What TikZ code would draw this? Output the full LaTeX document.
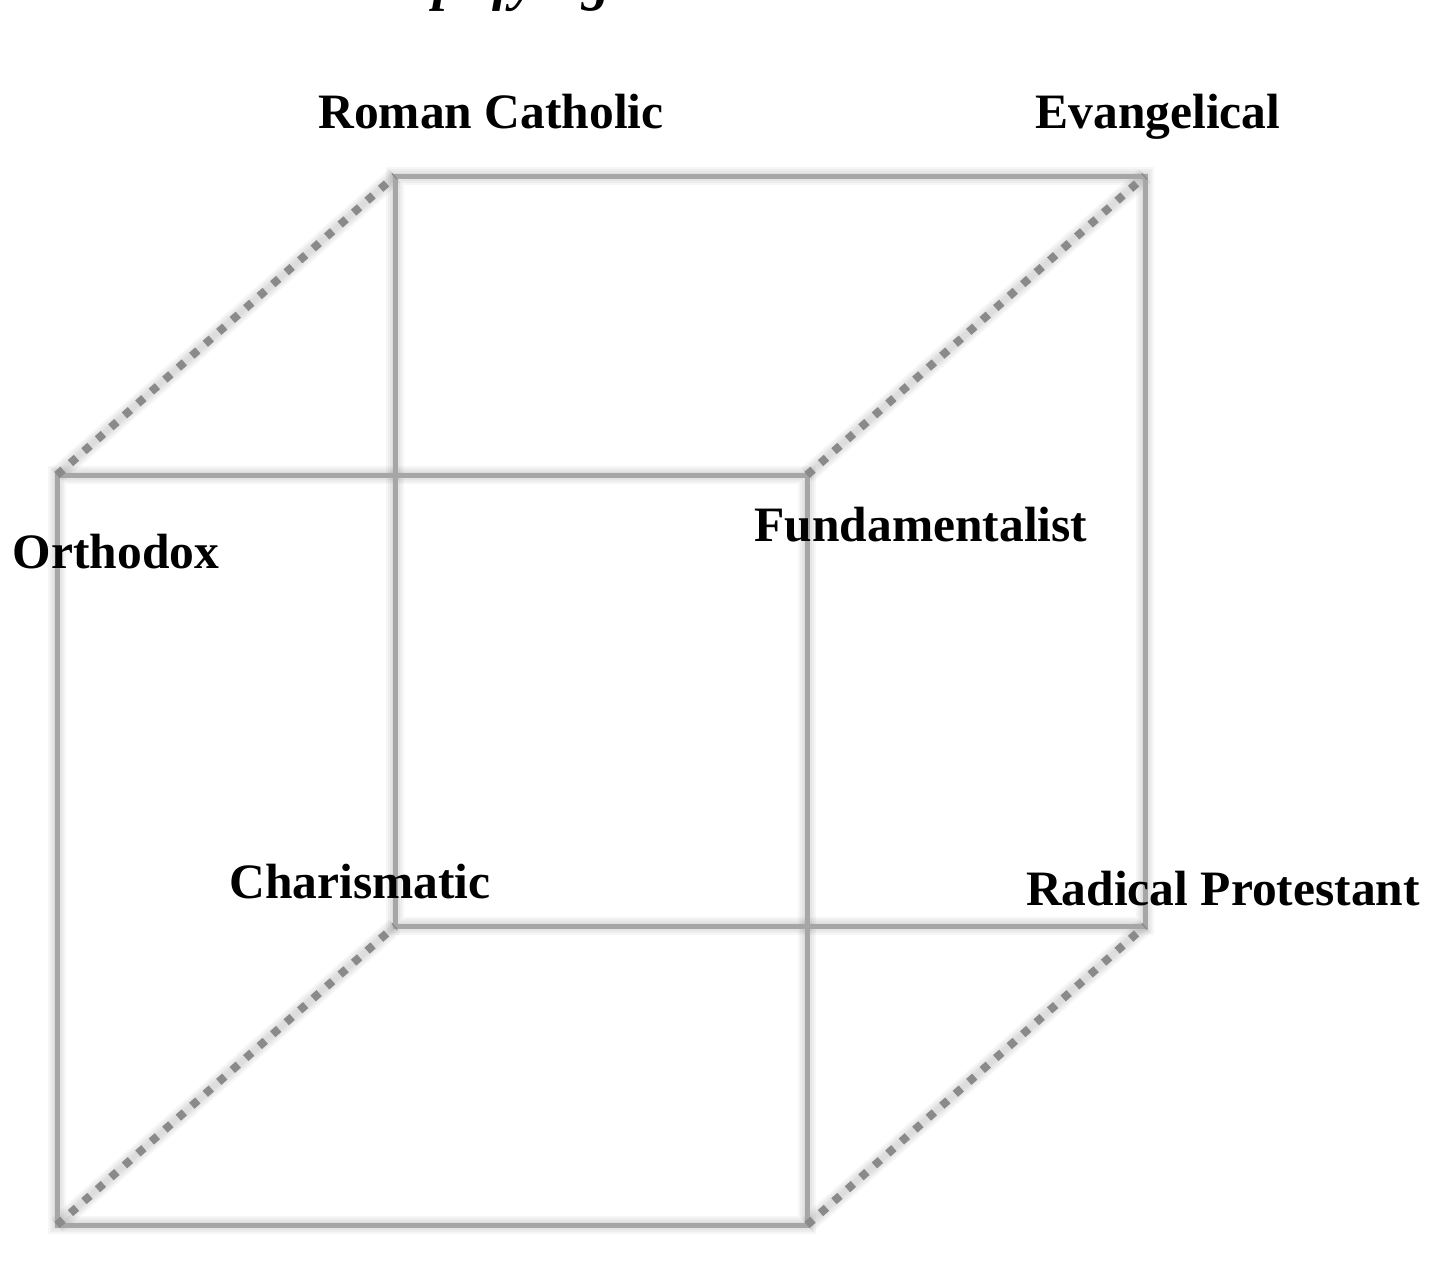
\documentclass[tikz,border=0pt]{standalone}
\usepackage{fontspec}
\setmainfont{Liberation Serif}
\definecolor{edgegray}{RGB}{166,166,166}
\definecolor{dotgray}{RGB}{138,138,138}
\tikzset{
  % The 'edge' style is for the solid sides of the two squares
  edge/.style={draw=edgegray, line width=5pt, line join=miter},
  % The 'dotedge' style is for the dotted depth lines joining the squares
  dotedge/.style={draw=dotgray, line width=8pt, dash pattern=on 8pt off 10pt},
  % The 'edgeshadow' style is a soft grey copy lying under each line
  edgeshadow/.style={draw=black, opacity=0.035, line width=#1},
  % The 'tradition' style is for the corner labels
  tradition/.style={font=\fontsize{49.5}{50}\selectfont\bfseries, anchor=base, text=black, inner sep=0pt},
  % The 'title-text' style is for the heading cut off at the top
  title-text/.style={font=\fontsize{56}{58}\selectfont\bfseries\itshape, anchor=base west, text=black, inner sep=0pt}
}

\begin{document}
\begin{tikzpicture}[x=1pt, y=-1pt]

  % Page frame and clip, so the heading is cut at the top edge
  \useasboundingbox (0,0) rectangle (1429,1266);
  \clip (0,0) rectangle (1429,1266);

  % Corners of the back square
  \coordinate (back-tl) at (395,176);
  \coordinate (back-tr) at (1145,176);
  \coordinate (back-br) at (1145,926);
  \coordinate (back-bl) at (395,926);

  % Corners of the front square
  \coordinate (front-tl) at (57,475);
  \coordinate (front-tr) at (807,475);
  \coordinate (front-br) at (807,1225);
  \coordinate (front-bl) at (57,1225);

  % Soft shadows under all the lines, a few widths stacked
  \foreach \w in {6,10,14,18} {
    \begin{scope}[shift={(3,8)}]
      \draw[edgeshadow=\w pt] (back-tl) -- (back-tr) -- (back-br) -- (back-bl) -- cycle;
      \draw[edgeshadow=\w pt] (front-tl) -- (front-tr) -- (front-br) -- (front-bl) -- cycle;
      \draw[edgeshadow=\w pt] (front-tl) -- (back-tl);
      \draw[edgeshadow=\w pt] (front-tr) -- (back-tr);
      \draw[edgeshadow=\w pt] (front-bl) -- (back-bl);
      \draw[edgeshadow=\w pt] (front-br) -- (back-br);
    \end{scope}
  }

  % The two squares
  \draw[edge] (back-tl) -- (back-tr) -- (back-br) -- (back-bl) -- cycle;
  \draw[edge] (front-tl) -- (front-tr) -- (front-br) -- (front-bl) -- cycle;

  % Dotted depth lines
  \draw[dotedge] (front-tl) -- (back-tl);
  \draw[dotedge] (front-tr) -- (back-tr);
  \draw[dotedge] (front-bl) -- (back-bl);
  \draw[dotedge] (front-br) -- (back-br);

  % Heading, only its lowest part shows
  \node[title-text] (title) at (343,-1) {Simplifying the Four Dimensions};

  % Corner labels
  \node[tradition] (roman) at (491,128) {Roman Catholic};
  \node[tradition] (evangelical) at (1158,128) {Evangelical};
  \node[tradition] (orthodox) at (116,568) {Orthodox};
  \node[tradition] (fundamentalist) at (921,541) {Fundamentalist};
  \node[tradition] (charismatic) at (360,898) {Charismatic};
  \node[tradition] (radical) at (1223,905) {Radical Protestant};

\end{tikzpicture}
\end{document}
